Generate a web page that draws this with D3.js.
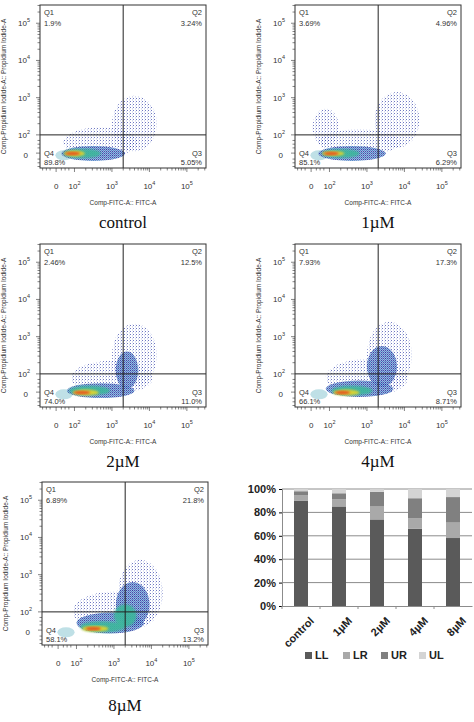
<!DOCTYPE html>
<html><head><meta charset="utf-8">
<script src="https://cdn.jsdelivr.net/npm/d3@7"></script>
<style>body{margin:0;background:#fff}</style>
</head><body>
<svg id="fig" width="474" height="722"></svg>
<script>
// quadrant percentages (Q1 UL, Q2 UR, Q3 LR, Q4 LL)
var panelNames = ["control", "1\u00b5M", "2\u00b5M", "4\u00b5M", "8\u00b5M"];
var q1 = ["1.9%", "3.69%", "2.46%", "7.93%", "6.89%"];
var q2 = ["3.24%", "4.96%", "12.5%", "17.3%", "21.8%"];
var q3 = ["5.05%", "6.29%", "11.0%", "8.71%", "13.2%"];
var q4 = ["89.8%", "85.1%", "74.0%", "66.1%", "58.1%"];

// bar chart values
var barCats = ["control", "1\u00b5M", "2\u00b5M", "4\u00b5M", "8\u00b5M"];
var LL = [89.8, 85.1, 74.0, 66.1, 58.1];
var LR = [5.05, 6.29, 11.0, 8.71, 13.2];
var UR = [3.24, 4.96, 12.5, 17.3, 21.8];
var UL = [1.9, 3.69, 2.46, 7.93, 6.89];
var barTicks = [0, 20, 40, 60, 80, 100];

// density blobs: [x decade, y decade, rx, ry, level]
var blobs = [
  [[2.7,1.8,1.0,0.4,0],[3.6,2.3,0.6,0.75,0],[2.5,1.5,0.85,0.2,1],[2.2,1.5,0.5,0.13,2],[2.0,1.5,0.28,0.08,3],[1.95,1.5,0.2,0.05,4]],
  [[2.8,1.8,1.1,0.35,0],[3.8,2.4,0.6,0.75,0],[1.9,2.2,0.35,0.5,0],[2.6,1.5,0.9,0.2,1],[2.3,1.5,0.5,0.12,2],[2.1,1.5,0.3,0.07,3],[2.05,1.5,0.2,0.05,4]],
  [[3.0,1.9,1.1,0.45,0],[3.6,2.5,0.6,0.85,0],[2.7,1.55,0.9,0.2,1],[3.4,2.1,0.3,0.5,1],[2.4,1.55,0.55,0.13,2],[2.3,1.5,0.35,0.08,3],[2.2,1.5,0.22,0.05,4]],
  [[3.0,1.9,1.1,0.5,0],[3.6,2.5,0.6,0.9,0],[2.8,1.6,0.9,0.22,1],[3.4,2.2,0.4,0.55,1],[2.6,1.55,0.55,0.13,2],[2.45,1.5,0.35,0.08,3],[2.35,1.5,0.2,0.05,4]],
  [[3.0,2.0,1.1,0.55,0],[3.7,2.5,0.6,0.9,0],[2.9,1.7,0.9,0.28,1],[3.5,2.2,0.45,0.6,1],[3.3,1.9,0.3,0.3,2],[2.7,1.6,0.6,0.15,2],[2.5,1.55,0.35,0.08,3],[2.45,1.55,0.2,0.05,4]]
];
var levelColors = ["url(#dots)", "url(#dense)", "#3cb89c", "#e6d52a", "#e64a1e"];

var panelPos = [[40,5],[295,5],[40,244],[295,244],[42,482]];
var boxW = 166, boxH = 163;

var svg = d3.select("#fig");
var defs = svg.append("defs");
var pat = defs.append("pattern").attr("id","dots").attr("width",3).attr("height",3)
  .attr("patternUnits","userSpaceOnUse");
pat.append("rect").attr("x",0).attr("y",0).attr("width",1).attr("height",1).attr("fill","#3340a8");
pat.append("rect").attr("x",2).attr("y",1.5).attr("width",0.8).attr("height",0.8).attr("fill","#6a7fd0");
var pat2 = defs.append("pattern").attr("id","dense").attr("width",2).attr("height",2)
  .attr("patternUnits","userSpaceOnUse");
pat2.append("rect").attr("width",2).attr("height",2).attr("fill","#8ea6dc");
pat2.append("rect").attr("x",0).attr("y",0).attr("width",1).attr("height",1).attr("fill","#26349a");
pat2.append("rect").attr("x",1).attr("y",1).attr("width",1).attr("height",1).attr("fill","#3a7cc0");
defs.append("filter").attr("id","soft").append("feGaussianBlur").attr("stdDeviation",1.2);

function sup(t, base, exp) {
  t.append("tspan").text(base);
  t.append("tspan").attr("dy",-4).attr("font-size",5.5).text(exp);
}

panelPos.forEach(function(p, i) {
  var g = svg.append("g").attr("transform","translate("+p[0]+","+p[1]+")");
  var x = d3.scaleLinear().domain([1.08,5.51]).range([0,boxW]);
  var y = d3.scaleLinear().domain([1.11,5.49]).range([boxH,0]);
  var clip = "c"+i;
  defs.append("clipPath").attr("id",clip).append("rect").attr("width",boxW).attr("height",boxH);
  var inner = g.append("g").attr("clip-path","url(#"+clip+")");
  inner.append("ellipse").attr("cx",x(1.72)).attr("cy",y(1.45)).attr("rx",x(1.95)-x(1.72))
    .attr("ry",5).attr("fill","#bfe0e6");
  blobs[i].forEach(function(b) {
    inner.append("ellipse")
      .attr("cx",x(b[0])).attr("cy",y(b[1]))
      .attr("rx",x(b[0]+b[2])-x(b[0])).attr("ry",y(b[1])-y(b[1]+b[3]))
      .attr("fill",levelColors[b[4]])
      .attr("opacity",b[4]==0?0.7:(b[4]==1?0.85:0.9))
      .attr("filter",b[4]>=2?"url(#soft)":null);
  });
  // quadrant gates
  g.append("line").attr("x1",x(3.3)).attr("x2",x(3.3)).attr("y1",0).attr("y2",boxH).attr("stroke","#222");
  g.append("line").attr("x1",0).attr("x2",boxW).attr("y1",y(2)).attr("y2",y(2)).attr("stroke","#222");
  g.append("rect").attr("width",boxW).attr("height",boxH).attr("fill","none").attr("stroke","#333").attr("stroke-width",1);

  var fs = {"font-family":"Liberation Sans, Arial","font-size":7.5,"fill":"#333"};
  function txt(xx, yy, s, anchor) {
    var t = g.append("text").attr("x",xx).attr("y",yy).text(s).attr("text-anchor",anchor||"start");
    for (var k in fs) t.attr(k, fs[k]);
    return t;
  }
  txt(4,10,"Q1"); txt(4,21,q1[i]);
  txt(boxW-4,10,"Q2","end"); txt(boxW-4,21,q2[i],"end");
  txt(4,y(1.5)+3,"Q4"); txt(4,boxH-3,q4[i]);
  txt(boxW-4,y(1.5)+3,"Q3","end"); txt(boxW-4,boxH-3,q3[i],"end");

  // minor ticks
  var minor = [];
  [2,3,4,5].forEach(function(d){ for (var k=1;k<10;k++){ var v=d+Math.log10(k); if(v>=1.1&&v<=5.5) minor.push(v);} });
  [1.15,1.25,1.35,1.51,1.65,1.75,1.85].forEach(function(v){ minor.push(v); });
  minor.forEach(function(v) {
    var major = Math.abs(v-Math.round(v))<1e-6 || v==1.51;
    g.append("line").attr("x1",x(v)).attr("x2",x(v)).attr("y1",boxH).attr("y2",boxH+(major?4:2.5)).attr("stroke","#333").attr("stroke-width",0.6);
    g.append("line").attr("y1",y(v)).attr("y2",y(v)).attr("x1",0).attr("x2",-(major?4:2.5)).attr("stroke","#333").attr("stroke-width",0.6);
  });
  // tick labels
  var tf = {"font-family":"Liberation Sans, Arial","font-size":8,"fill":"#333"};
  function tick(xx, yy, anchor) {
    var t = g.append("text").attr("x",xx).attr("y",yy).attr("text-anchor",anchor);
    for (var k in tf) t.attr(k, tf[k]);
    return t;
  }
  tick(x(1.51),boxH+21,"middle").text("0");
  [2,3,4,5].forEach(function(d){ sup(tick(x(d),boxH+21,"middle"),"10",d); });
  tick(-12,y(1.46)+3,"end").text("0");
  [2,3,4,5].forEach(function(d){ sup(tick(-10,y(d)+3,"end"),"10",d); });

  g.append("text").attr("x",boxW/2).attr("y",boxH+37).attr("text-anchor","middle")
    .attr("font-family","Liberation Sans, Arial").attr("font-size",6.5).attr("fill","#333")
    .text("Comp-FITC-A:: FITC-A");
  g.append("text").attr("transform","translate(-34,"+(boxH/2)+") rotate(-90)").attr("text-anchor","middle")
    .attr("font-family","Liberation Sans, Arial").attr("font-size",6.5).attr("fill","#333")
    .text("Comp-Propidium Iodide-A:: Propidium Iodide-A");
  g.append("text").attr("x",boxW/2).attr("y",(i==4?229:223)).attr("text-anchor","middle")
    .attr("font-family","Liberation Serif, Times New Roman").attr("font-size",17).attr("fill","#111")
    .text(panelNames[i]);
});

// stacked bar chart
var bx0 = 282, bx1 = 472, by0 = 606, by1 = 489;
var bxScale = d3.scaleBand().domain(barCats).range([bx0,bx1]);
var byScale = d3.scaleLinear().domain([0,100]).range([by0,by1]);
var bg = svg.append("g");
bg.selectAll("line.grid").data(barTicks.slice(1)).enter().append("line")
  .attr("x1",bx0).attr("x2",bx1).attr("y1",function(d){return byScale(d);}).attr("y2",function(d){return byScale(d);})
  .attr("stroke","#8c8c8c").attr("stroke-width",1);
var series = [["LL",LL,"#5a5a5a"],["LR",LR,"#a9a9a9"],["UR",UR,"#808080"],["UL",UL,"#d4d4d4"]];
barCats.forEach(function(c, i) {
  var acc = 0;
  series.forEach(function(s) {
    var v = s[1][i];
    bg.append("rect").attr("x",bxScale(c)+bxScale.bandwidth()/2-7).attr("width",14)
      .attr("y",byScale(acc+v)).attr("height",byScale(acc)-byScale(acc+v)).attr("fill",s[2]);
    acc += v;
  });
});
bg.append("g").attr("transform","translate("+bx0+",0)")
  .call(d3.axisLeft(byScale).tickValues(barTicks).tickFormat(function(d){return d+"%";}).tickSize(3))
  .call(function(a){
    a.select(".domain").attr("stroke","#8c8c8c");
    a.selectAll("text").attr("font-family","Liberation Sans, Arial").attr("font-weight","bold").attr("font-size",11).attr("fill","#222");
  });
bg.append("g").attr("transform","translate(0,"+by0+")")
  .call(d3.axisBottom(bxScale).tickSize(0))
  .call(function(a){
    a.select(".domain").attr("stroke","#8c8c8c");
    a.selectAll("text").attr("font-family","Liberation Sans, Arial").attr("font-weight","bold").attr("font-size",11).attr("fill","#222")
      .attr("text-anchor","end").attr("transform","translate(6,8) rotate(-45)");
  });
bxScale.domain().forEach(function(c){
  var xx = bxScale(c);
  bg.append("line").attr("x1",xx).attr("x2",xx).attr("y1",by0).attr("y2",by0+3).attr("stroke","#8c8c8c");
});
var lg = bg.append("g").attr("transform","translate(305,659)");
series.forEach(function(s, i) {
  var gx = i*38;
  lg.append("rect").attr("x",gx).attr("y",-7).attr("width",7).attr("height",7).attr("fill",s[2]);
  lg.append("text").attr("x",gx+10).attr("y",0).text(s[0])
    .attr("font-family","Liberation Sans, Arial").attr("font-weight","bold").attr("font-size",11).attr("fill","#222");
});
</script>
</body></html>
